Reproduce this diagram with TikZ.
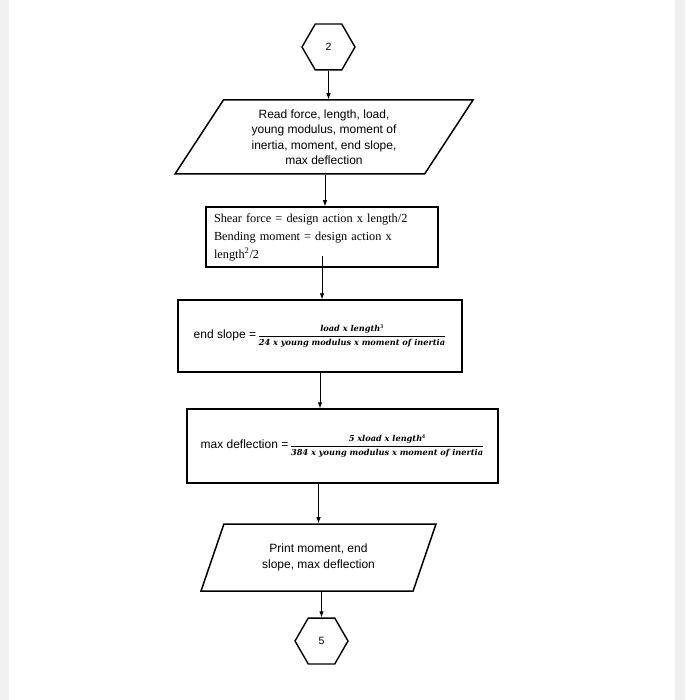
\documentclass[tikz,border=0pt]{standalone}
\usepackage{amsmath}
\usepackage{fontspec}
\setmainfont{Liberation Serif}
\newfontfamily\arial{Liberation Sans}
\newfontfamily\frcfont{DejaVu Serif}
\usetikzlibrary{shapes.geometric,arrows.meta}

\newcommand{\frc}{\frcfont\fontsize{8.2}{9}\selectfont\bfseries\itshape}

\tikzstyle{connector} = [draw, line width=1.4pt, regular polygon, regular polygon sides=6, minimum size=53pt, inner sep=0pt, font=\arial\fontsize{10.5}{12}\selectfont]
\tikzstyle{io} = [draw, line width=1.5pt, trapezium, trapezium stretches body=true, align=center, font=\arial\fontsize{12}{15.5}\selectfont]
\tikzstyle{process} = [draw, line width=1.5pt, rectangle, inner sep=0pt]
\tikzstyle{flow} = [-{Latex[length=6pt,width=4.5pt]}, line width=0.8pt]

\begin{document}
\begin{tikzpicture}[x=1pt, y=-1pt]
  \useasboundingbox (0,0) rectangle (685,700);
  % page frame
  \fill[black!6] (0,0) rectangle (9,700);
  \fill[black!6] (675,0) rectangle (685,700);

  \node (c2) at (328.5,47) [connector] {2};
  \node (in) at (324,137) [io, trapezium left angle=52, trapezium right angle=128, minimum width=298pt, minimum height=74pt] {Read force, length, load,\\young modulus, moment of\\inertia, moment, end slope,\\max deflection};
  \node (sf) at (322,237) [process, minimum width=232pt, minimum height=60pt, text width=216pt, align=left, font=\fontsize{12.3}{18}\selectfont] {Shear force = design action x length/2\\Bending moment = design action x\\length\textsuperscript{2}/2};
  \node (es) at (320,336) [process, minimum width=284pt, minimum height=72pt] {{\arial\fontsize{12}{14}\selectfont end slope =}\,$\dfrac{\mbox{\frc load x length$^{\mathbf{3}}$}}{\mbox{\frc 24 x young modulus x moment of inertia}}$};
  \node (md) at (342.5,446) [process, minimum width=311pt, minimum height=74pt] {{\arial\fontsize{12}{14}\selectfont max deflection =}\,$\dfrac{\mbox{\frc 5 xload x length$^{\mathbf{4}}$}}{\mbox{\frc 384 x young modulus x moment of inertia}}$};
  \node (out) at (318.5,557.5) [io, trapezium left angle=55.5, trapezium right angle=124.5, minimum width=235pt, minimum height=67pt] {Print moment, end\\slope, max deflection};
  \node (c5) at (321.5,641) [connector] {5};

  \draw [flow] (c2.south) to (c2.south |- in.north);
  \draw [flow] ([xshift=1pt]in.south) to ([xshift=1pt]in.south |- sf.north);
  \draw [flow] ([yshift=12pt]sf.south) to (sf.south |- es.north);
  \draw [flow] (es.south) to (es.south |- md.north);
  \draw [flow] (out.north |- md.south) to (out.north);
  \draw [flow] (c5.north |- out.south) to (c5.north);
\end{tikzpicture}
\end{document}
